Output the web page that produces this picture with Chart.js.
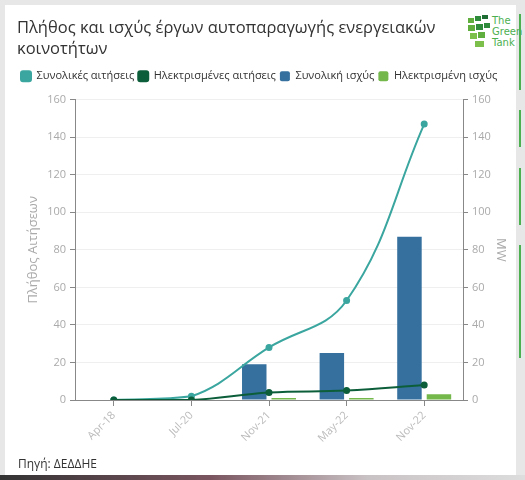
<!DOCTYPE html>
<html>
<head>
<meta charset="utf-8">
<script src="https://cdn.jsdelivr.net/npm/chart.js@4"></script>
<style>
  html, body { margin: 0; padding: 0; }
  body { width: 525px; height: 480px; background: #e7e7e7; position: relative; overflow: hidden; font-family: "Open Sans", sans-serif; }
  #card { position: absolute; left: 5px; top: 5px; width: 511px; height: 470px; background: #fff; }
  #wrap { position: absolute; left: 0; top: 0; width: 525px; height: 480px; }
  #source { position: absolute; left: 18px; top: 455px; font-size: 12px; color: #333; }
  #logo { position: absolute; left: 468px; top: 14px; width: 46px; height: 38px; }
  #logo .txt { position: absolute; left: 24px; top: 1px; font: 10px/11px "DejaVu Sans", sans-serif; color: #4caf50; }
  #logo .blk { position: absolute; background: #5fae3e; }
  .bar { position: absolute; left: 519px; width: 2px; background: #4caf50; }
  #strip { position: absolute; left: 0; top: 475px; width: 525px; height: 5px; background: linear-gradient(90deg, #333 0%, #7a5560 40%, #c9c2c4 70%, #ddd 100%); }
</style>
</head>
<body>
<div id="card"></div>
<div class="bar" style="top:14px;height:76px"></div>
<div class="bar" style="top:110px;height:37px"></div>
<div class="bar" style="top:168px;height:57px"></div>
<div class="bar" style="top:245px;height:113px"></div>
<div id="logo">
  <div class="blk" style="left:0;top:4px;width:6px;height:5px"></div>
  <div class="blk" style="left:7px;top:2px;width:6px;height:5px;background:#2e8b3c"></div>
  <div class="blk" style="left:14px;top:1px;width:6px;height:4px;background:#1f6e35"></div>
  <div class="blk" style="left:0;top:11px;width:7px;height:6px"></div>
  <div class="blk" style="left:8px;top:10px;width:7px;height:6px;background:#2e8b3c"></div>
  <div class="blk" style="left:16px;top:9px;width:6px;height:5px;background:#2e8b3c"></div>
  <div class="blk" style="left:2px;top:19px;width:7px;height:6px;background:#7cbf4a"></div>
  <div class="blk" style="left:10px;top:18px;width:7px;height:6px"></div>
  <div class="blk" style="left:7px;top:27px;width:9px;height:6px;background:#7cbf4a"></div>
  <div class="txt">The<br>Green<br>Tank</div>
</div>
<div id="wrap"><canvas id="grafico" width="525" height="480"></canvas></div>
<div id="source">Πηγή: ΔΕΔΔΗΕ</div>
<div id="strip"></div>
<script>
const categorias = ["Apr-18", "Jul-20", "Nov-21", "May-22", "Nov-22"];
const synolikesAitiseis = [0, 2, 28, 53, 147];
const ilektrismenesAitiseis = [0, 0, 4, 5, 8];
const synolikiIschys = [0, 0, 19, 25, 87];
const ilektrismeniIschys = [0, 0, 1, 1, 3];
const yMin = 0, yMax = 160, yStep = 20;

const ctx = document.getElementById("grafico").getContext("2d");

// a bit of extra room between the legend and the plot
const legendMargin = {
  id: "legendMargin",
  beforeInit(chart) {
    const fit = chart.legend.fit;
    chart.legend.fit = function () {
      fit.bind(chart.legend)();
      this.height += 8;
    };
  }
};

const grafico = new Chart(ctx, {
  type: "bar",
  data: {
    labels: categorias,
    datasets: [{
      type: "line",
      label: "Συνολικές αιτήσεις",
      data: synolikesAitiseis,
      borderColor: "#3aa69f",
      backgroundColor: "#3aa69f",
      borderWidth: 2,
      pointRadius: 2.5,
      pointHoverRadius: 2.5,
      tension: 0.4,
      yAxisID: "y",
      order: 1
    }, {
      type: "line",
      label: "Ηλεκτρισμένες αιτήσεις",
      data: ilektrismenesAitiseis,
      borderColor: "#0c5e3a",
      backgroundColor: "#0c5e3a",
      borderWidth: 2,
      pointRadius: 2.5,
      pointHoverRadius: 2.5,
      tension: 0.4,
      yAxisID: "y",
      order: 0
    }, {
      label: "Συνολική ισχύς",
      data: synolikiIschys,
      backgroundColor: "#35709e",
      categoryPercentage: 0.76,
      barPercentage: 0.83,
      yAxisID: "y1",
      order: 2
    }, {
      label: "Ηλεκτρισμένη ισχύς",
      data: ilektrismeniIschys,
      backgroundColor: "#74b74a",
      categoryPercentage: 0.76,
      barPercentage: 0.83,
      yAxisID: "y1",
      order: 2
    }]
  },
  plugins: [legendMargin],
  options: {
    responsive: false,
    animation: false,
    layout: { padding: { left: 17, right: 12, top: 18, bottom: 0 } },
    plugins: {
      tooltip: { enabled: false },
      title: {
        display: true,
        text: ["Πλήθος και ισχύς έργων αυτοπαραγωγής ενεργειακών", "κοινοτήτων"],
        align: "start",
        color: "#333",
        font: { family: "Open Sans", size: 16.5, weight: "normal", lineHeight: 1.25 },
        padding: { top: 0, bottom: 7.4 }
      },
      legend: {
        align: "start",
        labels: {
          sort: (a, b) => a.datasetIndex - b.datasetIndex,
          useBorderRadius: true,
          borderRadius: 2,
          boxWidth: 10,
          boxHeight: 10,
          padding: 4,
          color: "#333",
          font: { family: "Open Sans", size: 11 }
        }
      }
    },
    scales: {
      x: {
        offset: true,
        grid: { display: true, offset: false, color: "transparent", tickColor: "#888", tickLength: 6, drawOnChartArea: false },
        border: { color: "#888", width: 1 },
        ticks: { color: "#bbb", minRotation: 45, maxRotation: 45, font: { family: "Open Sans", size: 11 } },
        afterFit: (s) => { s.height = 80; }
      },
      y: {
        position: "left",
        min: yMin, max: yMax,
        ticks: { stepSize: yStep, color: "#aaa", padding: 4, font: { family: "Open Sans", size: 11 } },
        grid: { color: "#efefef", tickColor: "#888", tickLength: 5 },
        border: { color: "#888", width: 1 },
        title: { display: true, text: "Πλήθος Αιτήσεων", color: "#aaa", font: { family: "Open Sans", size: 13 }, padding: { top: 8, bottom: 4 } },
        afterFit: (s) => { s.width = 58; }
      },
      y1: {
        position: "right",
        min: yMin, max: yMax,
        ticks: { stepSize: yStep, color: "#aaa", padding: 4, font: { family: "Open Sans", size: 11 } },
        grid: { drawOnChartArea: false, tickColor: "#888", tickLength: 5 },
        border: { color: "#888", width: 1 },
        title: { display: true, text: "MW", color: "#aaa", font: { family: "Open Sans", size: 13 }, padding: { top: 4, bottom: 0 } },
        afterFit: (s) => { s.width = 50; }
      }
    }
  }
});
</script>
</body>
</html>
